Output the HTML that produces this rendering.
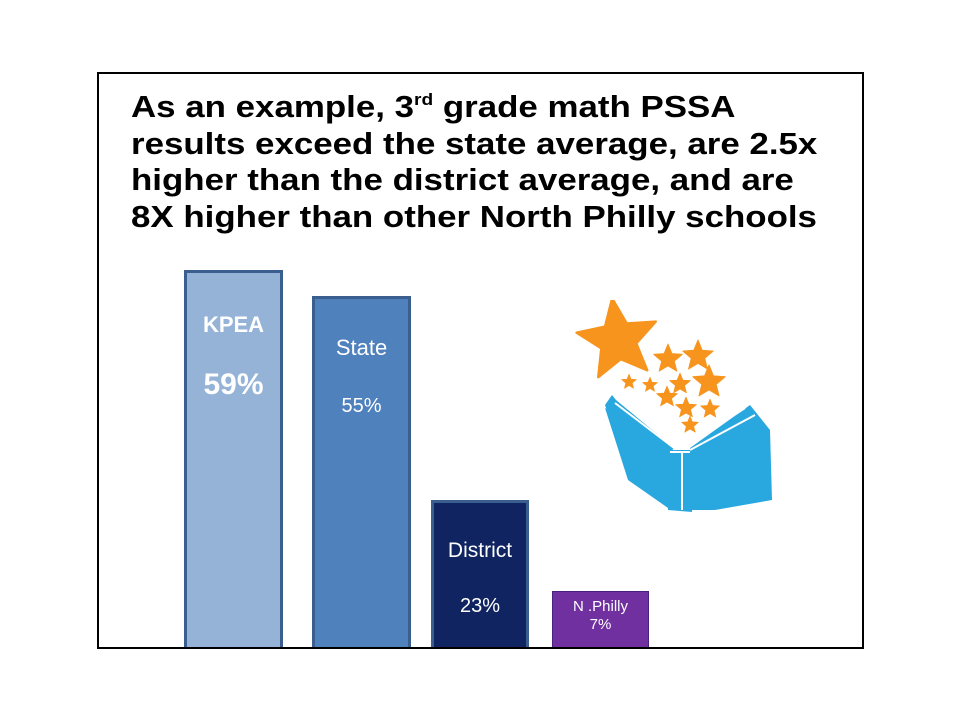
<!DOCTYPE html>
<html><head><style>
body{margin:0;background:#fff;width:960px;height:720px;position:relative;overflow:hidden;font-family:"Liberation Sans",sans-serif}
.frame{position:absolute;left:97px;top:72px;width:763px;height:573px;border:2px solid #000}
.t{position:absolute;left:131px;top:89px;font-weight:bold;font-size:31px;line-height:36.5px;color:#000;white-space:nowrap;transform:scaleX(1.125);transform-origin:0 0}
.bar{position:absolute;box-sizing:border-box;border:3px solid #3a5f8f;border-bottom:none;color:#fff;text-align:center}
</style></head><body>
<div class="frame"></div>
<div class="t">As an example, 3<sup style="font-size:17px;vertical-align:12px;line-height:0">rd</sup> grade math PSSA<br>results exceed the state average, are 2.5x<br>higher than the district average, and are<br>8X higher than other North Philly schools</div>
<div class="bar" style="left:184px;top:270px;width:99px;height:377px;background:#95b3d7"><div style="margin-top:39px;font-weight:bold;font-size:22px">KPEA</div><div style="margin-top:30px;font-weight:bold;font-size:30px">59%</div></div>
<div class="bar" style="left:312px;top:296px;width:99px;height:351px;background:#4f81bd"><div style="margin-top:36px;font-size:22px">State</div><div style="margin-top:34px;font-size:20px">55%</div></div>
<div class="bar" style="left:431px;top:500px;width:98px;height:147px;background:#0f2460;border-color:#3a5f8f"><div style="margin-top:36px;font-size:21px">District</div><div style="margin-top:32px;font-size:20px">23%</div></div>
<div class="bar" style="left:552px;top:591px;width:97px;height:56px;background:#7030a0;border:1px solid #4a2080;border-bottom:none"><div style="margin-top:6px;font-size:15px;line-height:18px">N .Philly<br>7%</div></div>
<svg style="position:absolute;left:570px;top:300px" width="220" height="220" viewBox="0 0 220 220">
<defs><polygon id="s" points="0,-10 2.6,-3.6 9.51,-3.09 4.2,1.4 5.88,8.09 0,4.6 -5.88,8.09 -4.2,1.4 -9.51,-3.09 -2.6,-3.6" stroke-linejoin="round"/></defs>
<g fill="#f7941d" stroke="#f7941d" stroke-width="0.6">
<use href="#s" transform="translate(48,40) scale(4.2) rotate(-8)"/>
<use href="#s" transform="translate(98,59) scale(1.5)"/>
<use href="#s" transform="translate(128,56) scale(1.6)"/>
<use href="#s" transform="translate(139,82) scale(1.7)"/>
<use href="#s" transform="translate(110,84) scale(1.1)"/>
<use href="#s" transform="translate(59,82) scale(0.8)"/>
<use href="#s" transform="translate(80,85) scale(0.8)"/>
<use href="#s" transform="translate(97,97) scale(1.1)"/>
<use href="#s" transform="translate(116,108) scale(1.1)"/>
<use href="#s" transform="translate(140,109) scale(1)"/>
<use href="#s" transform="translate(120,125) scale(0.9)"/>
</g>
<g fill="#29a8e0">
<path d="M35,105 L42,95 L46,100 L104,148 L100,153 L60,180 Z"/>
<path d="M35,108 L100,152 L98,208 L58,180 Z"/>
<path d="M120,148 L180,105 L200,130 L202,200 L145,210 L122,210 Z"/>
<path d="M98,150 L122,150 L122,212 L98,210 Z"/>
</g>
<g stroke="#fff" stroke-width="2" fill="none"><path d="M45,103 L104,148 M50,100 L106,145 M118,145 L175,108 M120,150 L185,115 M112,152 L112,210 M100,152 L120,152"/></g>
</svg>
</body></html>
